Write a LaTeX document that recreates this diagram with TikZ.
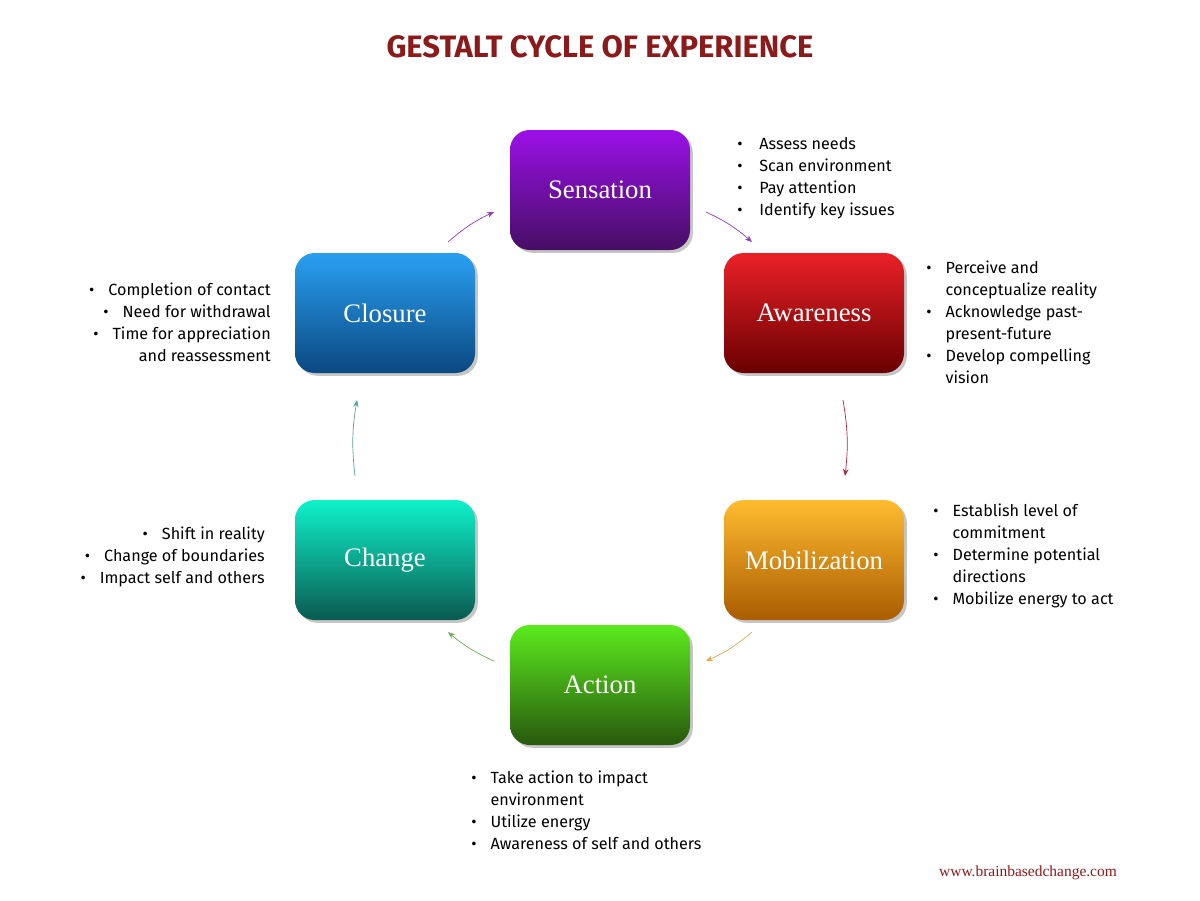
\documentclass[tikz,border=0pt]{standalone}
\usepackage{fontspec}
\setmainfont{Liberation Serif}
\newfontfamily\bulletfont{Fira Sans}
\newfontfamily\titlefont{Fira Sans}
\usetikzlibrary{shadows,arrows.meta}

\definecolor{titlered}{HTML}{8B1A1A}
\newcommand{\itm}{\textbullet &}

\tikzset{
  stage/.style={draw=none, rounded corners=14pt, minimum width=180*0.025cm,
    minimum height=120*0.025cm, text=white, font=\fontsize{19}{22}\selectfont,
    drop shadow={opacity=0.45, shadow xshift=2pt, shadow yshift=-2pt}},
  points/.style={inner sep=0pt, font=\bulletfont\fontsize{11.5}{15.6}\selectfont},
  flow/.style={-{Stealth[length=5pt,width=4pt]}, line width=0.5pt}
}

\begin{document}
\begin{tikzpicture}[x=0.025cm, y=-0.025cm]
\useasboundingbox (0,0) rectangle (1200,900);

\node[font=\titlefont\bfseries\fontsize{22}{26}\selectfont, text=titlered] (title) at (600,47) {GESTALT CYCLE OF EXPERIENCE};

% stages
\node[stage, top color={rgb,255:red,155;green,16;blue,232}, bottom color={rgb,255:red,70;green,14;blue,100}] (sens) at (600,190) {Sensation};
\node[stage, top color={rgb,255:red,235;green,32;blue,40}, bottom color={rgb,255:red,105;green,0;blue,0}] (aware) at (814,313) {Awareness};
\node[stage, top color={rgb,255:red,255;green,188;blue,48}, bottom color={rgb,255:red,170;green,92;blue,0}] (mobil) at (814,560) {Mobilization};
\node[stage, top color={rgb,255:red,92;green,235;blue,30}, bottom color={rgb,255:red,40;green,88;blue,14}] (act) at (600,685) {Action};
\node[stage, top color={rgb,255:red,14;green,242;blue,202}, bottom color={rgb,255:red,10;green,90;blue,80}] (chg) at (385,560) {Change};
\node[stage, top color={rgb,255:red,42;green,160;blue,242}, bottom color={rgb,255:red,10;green,72;blue,128}] (clos) at (385,313) {Closure};

% connectors
\coordinate (c1a) at (448,242); \coordinate (c1b) at (494,212);
\coordinate (c2a) at (706,212); \coordinate (c2b) at (752,242);
\coordinate (c3a) at (843,400); \coordinate (c3b) at (845,476);
\coordinate (c4a) at (752,632); \coordinate (c4b) at (706,661);
\coordinate (c5a) at (494,661); \coordinate (c5b) at (448,632);
\coordinate (c6a) at (355,476); \coordinate (c6b) at (357,400);
\draw[flow, draw={rgb,255:red,140;green,60;blue,190}] (c1a) to[bend left=8] (c1b);
\draw[flow, draw={rgb,255:red,140;green,60;blue,190}] (c2a) to[bend left=8] (c2b);
\draw[flow, draw={rgb,255:red,170;green,40;blue,60}] (c3a) to[bend left=8] (c3b);
\draw[flow, draw={rgb,255:red,225;green,170;blue,80}] (c4a) to[bend left=8] (c4b);
\draw[flow, draw={rgb,255:red,110;green,170;blue,90}] (c5a) to[bend left=8] (c5b);
\draw[flow, draw={rgb,255:red,90;green,160;blue,150}] (c6a) to[bend left=8] (c6b);

% bullet lists
\node[points, anchor=north west] (senspts) at (737,134) {\begin{tabular}{@{}l@{\hspace{12pt}}l@{}}
\itm Assess needs\\ \itm Scan environment\\ \itm Pay attention\\ \itm Identify key issues\end{tabular}};
\node[points, anchor=north west] (awarepts) at (926,258) {\begin{tabular}{@{}l@{\hspace{10pt}}l@{}}
\itm Perceive and\\ & conceptualize reality\\ \itm Acknowledge past-\\ & present-future\\ \itm Develop compelling\\ & vision\end{tabular}};
\node[points, anchor=north west] (mobilpts) at (933,501) {\begin{tabular}{@{}l@{\hspace{10pt}}l@{}}
\itm Establish level of\\ & commitment\\ \itm Determine potential\\ & directions\\ \itm Mobilize energy to act\end{tabular}};
\node[points, anchor=north west] (actpts) at (471,768) {\begin{tabular}{@{}l@{\hspace{10pt}}l@{}}
\itm Take action to impact\\ & environment\\ \itm Utilize energy\\ \itm Awareness of self and others\end{tabular}};
\node[points, anchor=north east] (chgpts) at (265,524) {\begin{tabular}{@{}r@{}}
\textbullet\hspace{10pt}Shift in reality\\ \textbullet\hspace{10pt}Change of boundaries\\ \textbullet\hspace{10pt}Impact self and others\end{tabular}};
\node[points, anchor=north east] (clospts) at (271,280) {\begin{tabular}{@{}r@{}}
\textbullet\hspace{10pt}Completion of contact\\ \textbullet\hspace{10pt}Need for withdrawal\\ \textbullet\hspace{10pt}Time for appreciation\\ and reassessment\end{tabular}};

\node[text=titlered, font=\fontsize{11}{13}\selectfont] (web) at (1028,873) {www.brainbasedchange.com};
\end{tikzpicture}
\end{document}
